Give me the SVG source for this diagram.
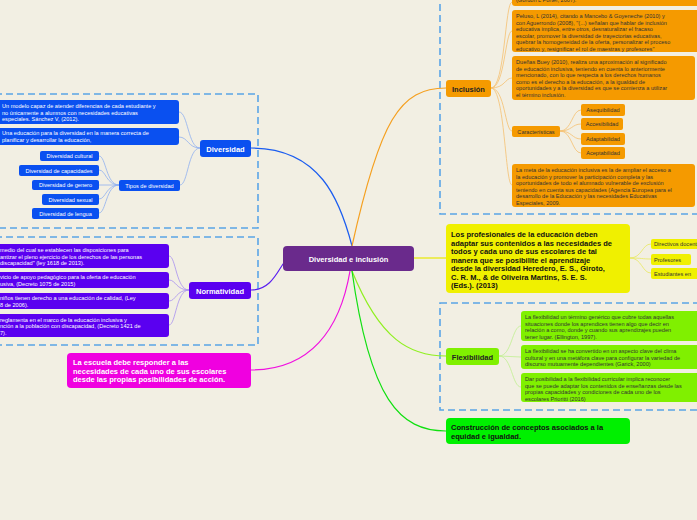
<svg xmlns="http://www.w3.org/2000/svg" width="697" height="520" viewBox="0 0 697 520">
<style>
text{font-family:"Liberation Sans",Arial,sans-serif}
.s{font-size:5.6px;fill:#fff}
.sd{font-size:5.6px;fill:#333}
.t{font-size:7.5px;font-weight:bold}
.frame{fill:none;stroke:#5aa5e6;stroke-width:1.6;stroke-dasharray:7,4}
.c{fill:none;stroke-width:1.2}
</style>
<rect width="697" height="520" fill="#f2efe3"/>
<rect class="frame" x="-5" y="94" width="263" height="134"/>
<rect class="frame" x="-5" y="237" width="263" height="108"/>
<rect class="frame" x="440" y="-5" width="262" height="219"/>
<rect class="frame" x="440" y="303" width="262" height="107"/>
<g id="connectors">
<path class="c" stroke="#1a5cf0" d="M251,148 C320,148 340,200 352,246"/>
<path class="c" stroke="#5a1ef0" d="M251,290 C275,290 280,262 288,259"/>
<path class="c" stroke="#f010e0" d="M251,370 C310,370 340,330 350,271"/>
<path class="c" stroke="#f5a020" d="M352,246 C380,120 400,88 446,88"/>
<path class="c" stroke="#e8e800" d="M414,258 L446,258"/>
<path class="c" stroke="#90f020" d="M352,271 C380,340 410,356 446,356"/>
<path class="c" stroke="#10e010" d="M352,271 C370,400 400,431 446,431"/>
<g stroke="#8fb0f0" fill="none" stroke-width="0.8">
<path d="M200,148 C188,148 188,112 179,112"/><path d="M200,148 C188,148 188,137 179,137"/><path d="M200,148 C188,148 188,185 180,185"/>
<path d="M119,185 C106,185 106,156 99,156"/><path d="M119,185 C106,185 106,170 99,170"/><path d="M119,185 L99,185"/><path d="M119,185 C106,185 106,199 99,199"/><path d="M119,185 C106,185 106,213 99,213"/>
</g>
<g stroke="#a890f0" fill="none" stroke-width="0.8">
<path d="M189,290 C176,290 176,256 169,256"/><path d="M189,290 C176,290 176,280 169,280"/><path d="M189,290 C176,290 176,301 169,301"/><path d="M189,290 C176,290 176,325 169,325"/>
</g>
<g stroke="#f5c070" fill="none" stroke-width="0.8">
<path d="M491,88 C505,88 505,2 512,2"/><path d="M491,88 C505,88 505,31 512,31"/><path d="M491,88 C505,88 505,78 512,78"/><path d="M491,88 C505,88 505,131 512,131"/><path d="M491,88 C505,88 505,185 512,185"/>
<path d="M560,131 C572,131 572,110 581,110"/><path d="M560,131 C572,131 572,124 581,124"/><path d="M560,131 C572,131 572,139 581,139"/><path d="M560,131 C572,131 572,153 581,153"/>
</g>
<g stroke="#e8e860" fill="none" stroke-width="0.8">
<path d="M630,258 C642,258 642,244 651,244"/><path d="M630,258 C642,258 642,259 651,259"/><path d="M630,258 C642,258 642,273 651,273"/>
</g>
<g stroke="#c0f090" fill="none" stroke-width="0.8">
<path d="M499,356 C512,356 512,326 521,326"/><path d="M499,356 L521,357"/><path d="M499,356 C512,356 512,387 521,387"/>
</g>
</g>
<g id="center"><rect x="283" y="246" width="131" height="25" rx="4" fill="#6a2a8c"/><text x="348.5" y="262" text-anchor="middle" class="t" fill="#fff" font-size="9">Diversidad e inclusión</text></g>
<g id="diversidad" fill="#0a50f0">
<rect x="200" y="140" width="51" height="17" rx="3"/><text x="225.5" y="151.5" text-anchor="middle" class="t" fill="#fff">Diversidad</text>
<rect x="-5" y="100" width="184" height="24" rx="3"/>
<text class="s" x="2" y="108">Un modelo capaz de atender diferencias de cada estudiante y</text><text class="s" x="2" y="114.5">no únicamente a alumnos con necesidades educativas</text><text class="s" x="2" y="121">especiales. Sánchez V, (2012).</text>
<rect x="-5" y="128" width="184" height="17" rx="3"/>
<text class="s" x="2" y="135">Una educación para la diversidad en la manera correcta de</text><text class="s" x="2" y="142">planificar y desarrollar la educación,</text>
<rect x="40" y="151" width="59" height="10" rx="2"/><text class="s" x="69.5" y="158" text-anchor="middle">Diversidad cultural</text>
<rect x="19" y="165" width="80" height="11" rx="2"/><text class="s" x="59" y="172.5" text-anchor="middle">Diversidad de capacidades</text>
<rect x="32" y="180" width="67" height="10" rx="2"/><text class="s" x="65.5" y="187" text-anchor="middle">Diversidad de genero</text>
<rect x="42" y="194" width="57" height="11" rx="2"/><text class="s" x="70.5" y="201.5" text-anchor="middle">Diversidad sexual</text>
<rect x="32" y="208" width="67" height="11" rx="2"/><text class="s" x="65.5" y="215.5" text-anchor="middle">Diversidad de lengua</text>
<rect x="119" y="180" width="61" height="11" rx="2"/><text class="s" x="149.5" y="187.5" text-anchor="middle">Tipos de diversidad</text>
</g>
<g id="normatividad" fill="#5a00f0">
<rect x="189" y="282" width="62" height="17" rx="3"/><text x="220" y="293.5" text-anchor="middle" class="t" fill="#fff">Normatividad</text>
<rect x="-5" y="244" width="174" height="24" rx="3"/>
<text class="s" x="0" y="252">medio del cual se establecen las disposiciones para</text><text class="s" x="0" y="258.5">antizar el pleno ejercicio de los derechos de las personas</text><text class="s" x="0" y="265"> discapacidad" (ley 1618 de 2013).</text>
<rect x="-5" y="272" width="174" height="16" rx="3"/>
<text class="s" x="0" y="279">vicio de apoyo pedagógico para la oferta de educación</text><text class="s" x="0" y="285.5">usiva, (Decreto 1075 de 2015)</text>
<rect x="-5" y="293" width="174" height="16" rx="3"/>
<text class="s" x="0" y="300">niños tienen derecho a una educación de calidad, (Ley</text><text class="s" x="0" y="306.5">8 de 2006).</text>
<rect x="-5" y="314" width="174" height="23" rx="3"/>
<text class="s" x="0" y="321.5">reglamenta en el marco de la educación inclusiva y</text><text class="s" x="0" y="328">nción a la población con discapacidad, (Decreto 1421 de</text><text class="s" x="0" y="334.5">7).</text>
</g>
<g id="escuela"><rect x="67" y="353" width="184" height="35" rx="4" fill="#f000e0"/>
<text class="t" fill="#fff" x="73" y="365">La escuela debe responder a las</text><text class="t" fill="#fff" x="73" y="373.5">necesidades de cada uno de sus escolares</text><text class="t" fill="#fff" x="73" y="382">desde las propias posibilidades de acción.</text></g>
<g id="inclusion" fill="#f59a00">
<rect x="446" y="80" width="45" height="17" rx="3"/><text x="468.5" y="91.5" text-anchor="middle" class="t" fill="#222">Inclusión</text>
<rect x="512" y="-10" width="190" height="16" rx="3"/><text class="sd" x="516" y="2">(Gordon L Porter, 2007).</text>
<rect x="512" y="10" width="190" height="42" rx="3"/>
<text class="sd" x="516" y="18">Peluso, L (2014), citando a Mancebo &amp; Goyeneche (2010) y</text><text class="sd" x="516" y="24.5">con Aguerrondo (2008), "(...) señalan que hablar de inclusión</text><text class="sd" x="516" y="31">educativa implica, entre otros, desnaturalizar el fracaso</text><text class="sd" x="516" y="37.5">escolar, promover la diversidad de trayectorias educativas,</text><text class="sd" x="516" y="44">quebrar la homogeneidad de la oferta, personalizar el proceso</text><text class="sd" x="516" y="50.5">educativo y, resignificar el rol de maestras y profesores"</text>
<rect x="512" y="56" width="183" height="44" rx="3"/>
<text class="sd" x="516" y="64">Dueñas Buey (2010), realiza una aproximación al significado</text><text class="sd" x="516" y="70.5">de educación inclusiva, teniendo en cuenta lo anteriormente</text><text class="sd" x="516" y="77">mencionado, con lo que respecta a los derechos humanos</text><text class="sd" x="516" y="83.5">como es el derecho a la educación, a la igualdad de</text><text class="sd" x="516" y="90">oportunidades y a la diversidad es que se comienza a utilizar</text><text class="sd" x="516" y="96.5">el término inclusión.</text>
<rect x="512" y="126" width="48" height="11" rx="2"/><text class="sd" x="536" y="133.5" text-anchor="middle">Características</text>
<rect x="581" y="104" width="44" height="12" rx="2"/><text class="sd" x="603" y="112" text-anchor="middle">Asequibilidad</text>
<rect x="581" y="118" width="42" height="12" rx="2"/><text class="sd" x="602" y="126" text-anchor="middle">Accesibilidad</text>
<rect x="581" y="133" width="44" height="12" rx="2"/><text class="sd" x="603" y="141" text-anchor="middle">Adaptabilidad</text>
<rect x="581" y="147" width="44" height="12" rx="2"/><text class="sd" x="603" y="155" text-anchor="middle">Aceptabilidad</text>
<rect x="512" y="164" width="183" height="43" rx="3"/>
<text class="sd" x="516" y="172">La meta de la educación inclusiva es la de ampliar el acceso a</text><text class="sd" x="516" y="178.5">la educación y promover la participación completa y las</text><text class="sd" x="516" y="185">oportunidades de todo el alumnado   vulnerable de exclusión</text><text class="sd" x="516" y="191.5">teniendo en cuenta sus capacidades (Agencia Europea para el</text><text class="sd" x="516" y="198">desarrollo de la Educación y las necesidades Educativas</text><text class="sd" x="516" y="204.5">Especiales, 2009.</text>
</g>
<g id="profesionales" fill="#f0f000">
<rect x="446" y="224" width="184" height="69" rx="4"/>
<text class="t" fill="#111" x="451" y="237">Los profesionales de la educación deben</text><text class="t" fill="#111" x="451" y="245.5">adaptar sus contenidos a las necesidades de</text><text class="t" fill="#111" x="451" y="254">todos y cada uno de sus escolares de tal</text><text class="t" fill="#111" x="451" y="262.5">manera que se posibilite el aprendizaje</text><text class="t" fill="#111" x="451" y="271">desde la diversidad Heredero, E. S., Giroto,</text><text class="t" fill="#111" x="451" y="279.5">C. R. M., &amp; de Oliveira Martins, S. E. S.</text><text class="t" fill="#111" x="451" y="288">(Eds.). (2013)</text>
<rect x="651" y="239" width="50" height="10" rx="2"/><text class="sd" x="654" y="246">Directivos docentes</text>
<rect x="651" y="254" width="40" height="11" rx="2"/><text class="sd" x="654" y="261.5">Profesores</text>
<rect x="651" y="268" width="50" height="11" rx="2"/><text class="sd" x="654" y="275.5">Estudiantes en</text>
</g>
<g id="flexibilidad" fill="#80f000">
<rect x="446" y="348" width="53" height="17" rx="3"/><text x="472.5" y="359.5" text-anchor="middle" class="t" fill="#222">Flexibilidad</text>
<rect x="521" y="311" width="181" height="30" rx="3"/>
<text class="sd" x="525" y="319">La flexibilidad un término genérico que cubre todas aquellas</text><text class="sd" x="525" y="325.5">situaciones donde los aprendices tienen algo que decir en</text><text class="sd" x="525" y="332">relación a como, donde y cuando sus aprendizajes pueden</text><text class="sd" x="525" y="338.5">tener lugar. (Ellington, 1997).</text>
<rect x="521" y="345" width="181" height="24" rx="3"/>
<text class="sd" x="525" y="353">La flexibilidad se ha convertido en un aspecto clave del clima</text><text class="sd" x="525" y="359.5">cultural y en una metáfora clave para configurar la variedad de</text><text class="sd" x="525" y="366">discurso mutuamente dependientes (Garick, 2000)</text>
<rect x="521" y="373" width="181" height="29" rx="3"/>
<text class="sd" x="525" y="381">Dar posibilidad a la flexibilidad curricular implica reconocer</text><text class="sd" x="525" y="387.5">que se puede adaptar los contenidos de enseñanzas desde las</text><text class="sd" x="525" y="394">propias capacidades y condiciones de cada uno de los</text><text class="sd" x="525" y="400.5">escolares  Prioritti (2016)</text>
</g>
<g id="construccion"><rect x="446" y="418" width="184" height="26" rx="4" fill="#00f000"/>
<text class="t" fill="#111" x="451" y="429.5">Construcción de conceptos asociados a la</text><text class="t" fill="#111" x="451" y="438.5">equidad e igualdad.</text></g>
</svg>
